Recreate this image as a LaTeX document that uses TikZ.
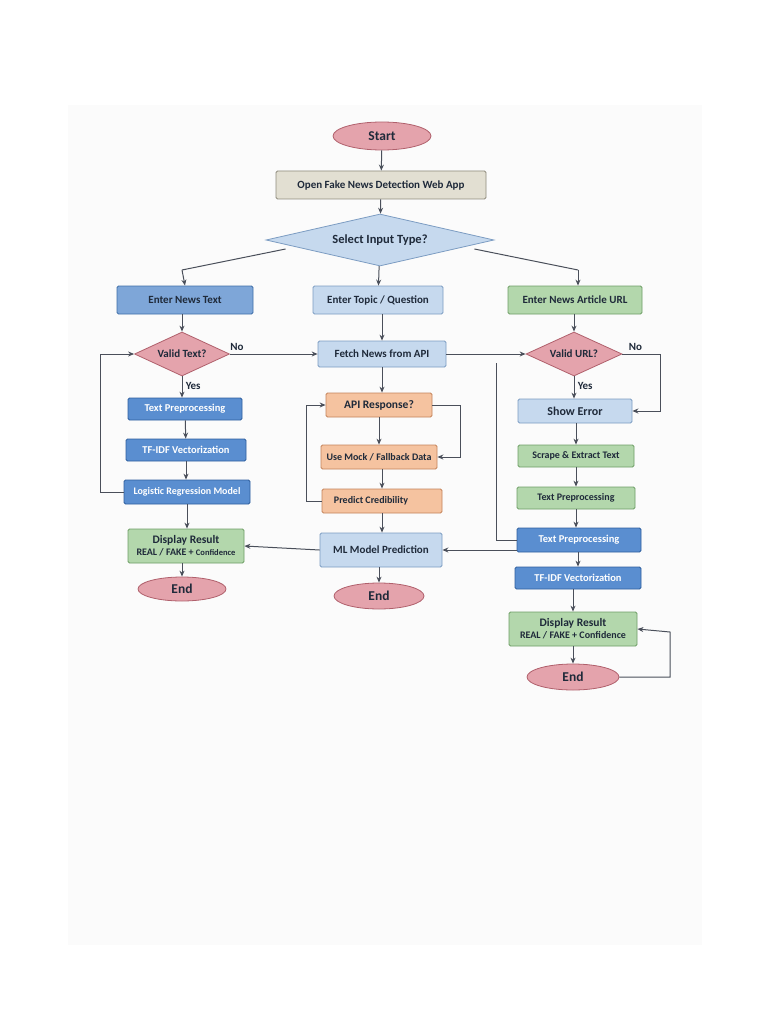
\documentclass[tikz,border=0pt]{standalone}
\usepackage{fontspec}
\setmainfont{Carlito}
\usetikzlibrary{shapes.geometric,arrows.meta}
\definecolor{ln}{HTML}{4A4F5A}
\definecolor{redf}{HTML}{E4A3AC}\definecolor{redd}{HTML}{B0606C}
\definecolor{beigef}{HTML}{E2DFD2}\definecolor{beiged}{HTML}{8E8A7C}
\definecolor{bluef}{HTML}{7EA6D8}\definecolor{blued}{HTML}{3F6EA8}
\definecolor{lbluef}{HTML}{C6D9EE}\definecolor{lblued}{HTML}{7C9CC2}
\definecolor{dbluef}{HTML}{5A8ED0}\definecolor{dblued}{HTML}{2F5F9E}
\definecolor{greenf}{HTML}{B3D7AC}\definecolor{greend}{HTML}{6E9E66}
\definecolor{oranf}{HTML}{F5C3A0}\definecolor{orand}{HTML}{C4835A}
\definecolor{txt}{HTML}{1F2A3A}
\tikzset{
 base/.style={draw, line width=0.8pt, rounded corners=1.5pt, font=\bfseries\fontsize{11}{13}\selectfont, text=txt, inner sep=0pt, align=center},
 term/.style={base, ellipse, fill=redf, draw=redd, font=\bfseries\fontsize{13.5}{15}\selectfont},
 dec/.style={base, diamond, aspect=2.2, fill=redf, draw=redd, rounded corners=0pt},
 beige/.style={base, rectangle, fill=beigef, draw=beiged},
 blue/.style={base, rectangle, fill=bluef, draw=blued},
 lblue/.style={base, rectangle, fill=lbluef, draw=lblued},
 dblue/.style={base, rectangle, fill=dbluef, draw=dblued, text=white, font=\bfseries\fontsize{10.5}{12}\selectfont},
 green/.style={base, rectangle, fill=greenf, draw=greend},
 oran/.style={base, rectangle, fill=oranf, draw=orand},
 arr/.style={draw=ln, line width=1pt, -{Stealth[length=6pt,width=5pt]}},
 ln/.style={draw=ln, line width=1pt},
 lab/.style={font=\bfseries\fontsize{11}{13}\selectfont, text=txt},
}
\begin{document}
\begin{tikzpicture}[x=1pt,y=-1pt]
\useasboundingbox (0,0) rectangle (768,1024);
\fill[white] (0,0) rectangle (768,1024);
\fill[black!1.5] (68,105) rectangle (702,945);
% top
\node[term, minimum width=98, minimum height=28] (start) at (382,136) {Start};
\node[beige, minimum width=210, minimum height=28] (open) at (381,185) {Open Fake News Detection Web App};
\node[base, diamond, fill=lbluef, draw=lblued, rounded corners=0pt, minimum width=228, minimum height=52, aspect=4.4, font=\bfseries\fontsize{12.5}{14}\selectfont] (sel) at (380,240) {Select Input Type?};
\node[blue, minimum width=136, minimum height=28] (ent) at (185,300) {Enter News Text};
\node[lblue, minimum width=130, minimum height=28] (top) at (378,300) {Enter Topic / Question};
\node[green, minimum width=134, minimum height=28] (url) at (575,300) {Enter News Article URL};
% left
\node[dec, minimum width=95, minimum height=44, aspect=2.2] (vt) at (182,354) {Valid Text?};
\node[dblue, minimum width=114, minimum height=22] (tpl) at (185,409) {Text Preprocessing};
\node[dblue, minimum width=120, minimum height=22] (tfl) at (186,450) {TF-IDF Vectorization};
\node[dblue, minimum width=126, minimum height=24, font=\bfseries\fontsize{10}{12}\selectfont] (lr) at (187,492) {Logistic Regression Model};
\node[green, minimum width=116, minimum height=34, font=\bfseries\fontsize{11.5}{13}\selectfont] (dl) at (186,546) {Display Result\\[-1pt]{\fontsize{10}{11}\selectfont REAL / FAKE + \fontsize{8.5}{9}\selectfont Confidence}};
\node[term, minimum width=88, minimum height=24] (el) at (182,589) {End};
% middle
\node[lblue, minimum width=128, minimum height=26] (fe) at (382,354) {Fetch News from API};
\node[oran, minimum width=106, minimum height=24, font=\bfseries\fontsize{11.5}{13}\selectfont] (api) at (379,405) {API Response?};
\node[oran, minimum width=116, minimum height=24, font=\bfseries\fontsize{10}{12}\selectfont] (mock) at (379,457) {Use Mock / Fallback Data};
\node[oran, minimum width=120, minimum height=24, font=\bfseries\fontsize{10}{12}\selectfont] (pc) at (382,501) {\hspace*{-22pt}Predict Credibility};
\node[lblue, minimum width=122, minimum height=34] (ml) at (381,550) {ML Model Prediction};
\node[term, minimum width=90, minimum height=26] (em) at (379,596) {End};
% right
\node[dec, minimum width=96, minimum height=44, aspect=2.2] (vu) at (574,354) {Valid URL?};
\node[lblue, minimum width=114, minimum height=24, font=\bfseries\fontsize{12}{13}\selectfont] (se) at (575,411) {Show Error};
\node[green, minimum width=116, minimum height=22, font=\bfseries\fontsize{10}{12}\selectfont] (sc) at (576,456) {Scrape \& Extract Text};
\node[green, minimum width=118, minimum height=22, font=\bfseries\fontsize{10}{12}\selectfont] (tpg) at (576,498) {Text Preprocessing};
\node[dblue, minimum width=124, minimum height=24] (tpb) at (579,540) {Text Preprocessing};
\node[dblue, minimum width=126, minimum height=22] (tfr) at (578,578) {TF-IDF Vectorization};
\node[green, minimum width=128, minimum height=34, font=\bfseries\fontsize{11.5}{13}\selectfont] (dr) at (573,629) {Display Result\\[-1pt]{\fontsize{10}{11}\selectfont REAL / FAKE + Confidence}};
\node[term, minimum width=92, minimum height=26] (er) at (573,677) {End};
% connectors top
\draw[arr] (start) -- (open);
\draw[arr] (open) -- (sel);
\draw[arr] (sel) -- (top);
\coordinate (sl) at (182,270); \coordinate (sr) at (578,270);
\path (sel.west) ++(20,9) coordinate (slp);
\draw[ln] (slp) -- (sl);
\draw[arr] (sl) -- (ent.north);
\path (sel.east) ++(-20,9) coordinate (srp);
\draw[ln] (srp) -- (sr);
\draw[arr] (sr) -- (sr |- url.north);
\draw[arr] (ent.south -| vt.north) -- (vt.north);
\draw[arr] (top.south -| fe.north) -- (fe.north);
\draw[arr] (url.south -| vu.north) -- (vu.north);
% left column
\draw[arr] (vt.east) -- node[lab, pos=0.08, above] {No} (fe.west);
\draw[arr] (vt.south) -- node[lab, right, pos=0.45] {Yes} (vt.south |- tpl.north);
\draw[arr] (tpl) -- (tfl);
\draw[arr] (tfl) -- (tfl |- lr.north);
\draw[arr] (lr) -- (lr |- dl.north);
\draw[arr] (dl.south -| el.north) -- (el.north);
\draw[arr] (lr.west) -| (100,354) -- (vt.west);
% middle
\draw[arr] (fe) -- (fe |- api.north);
\draw[arr] (api.south -| mock.north) -- (mock.north);
\draw[arr] (mock.south -| pc.north) -- (pc.north);
\draw[arr] (pc) -- (pc |- ml.north);
\draw[arr] (ml.south -| em.north) -- (em.north);
\draw[arr] (api.east) -| (460,457) -- (mock.east);
\draw[arr] (pc.west) -| (306,405) -- (api.west);
\draw[arr] (ml.west) -- (dl.east);
\draw[arr] (fe.east) -- (vu.west);
% right
\draw[arr] (vu.south) -- node[lab, right, pos=0.45] {Yes} (vu.south |- se.north);
\draw[arr] (vu.east) -- node[lab, pos=0.35, above] {No} (660,354) -- (660,411) -- (se.east);
\draw[arr] (se.south -| sc.north) -- (sc.north);
\draw[arr] (sc) -- (tpg);
\draw[arr] (tpg) -- (tpg |- tpb.north);
\draw[arr] (tpb.south -| tfr.north) -- (tfr.north);
\draw[arr] (tfr.south -| dr.north) -- (dr.north);
\draw[arr] (dr.south -| er.north) -- (er.north);
\coordinate (tpu) at (496,363);
\draw[ln] (tpb.west) -| (tpu);
\draw[arr] (tpb.west |- ml.east) -- (ml.east);
\draw[arr] (er.east) -| (670,632) -- (dr.east);
\end{tikzpicture}
\end{document}
